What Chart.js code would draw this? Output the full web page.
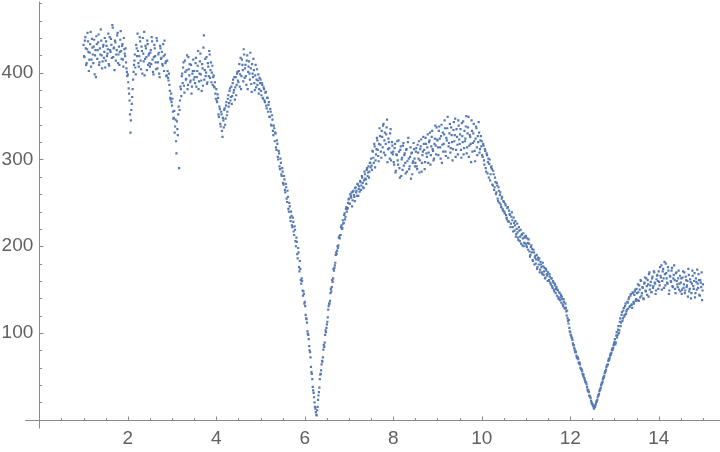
<!DOCTYPE html>
<html>
<head>
<meta charset="utf-8">
<script src="https://cdn.jsdelivr.net/npm/chart.js@4.4.1/dist/chart.umd.min.js"></script>
<style>
  html, body { margin: 0; padding: 0; background: #fff; }
  canvas { display: block; }
</style>
</head>
<body>
<canvas id="plot" width="720" height="452"></canvas>
<script>
// two interleaved sample runs: A at x = 1.00, 1.02 ... 15.00, B at x = 1.01, 1.03 ... 14.99
const xStartA = 1;
const xStartB = 1.01;
const xStep = 0.02;

// y, one row per half unit of x
const yValuesA = [
  432, 418, 441, 409, 427, 436, 402, 423, 447, 415, 429, 411, 438, 420, 395, 433, 426, 444, 412, 421, 437, 405, 430, 417, 440,
  414, 431, 422, 445, 408, 426, 439, 417, 452, 428, 403, 435, 421, 443, 411, 430, 424, 448, 416, 433, 407, 427, 419, 412, 401,
  398, 382, 368, 331, 357, 372, 392, 409, 421, 398, 428, 445, 411, 419, 436, 404, 425, 440, 413, 397, 431, 418, 437, 409, 422,
  407, 426, 441, 415, 398, 432, 419, 404, 437, 412, 423, 395, 428, 417, 410, 433, 402, 421, 413, 397, 402, 391, 386, 371, 376,
  362, 355, 348, 331, 346, 307, 335, 352, 290, 368, 381, 396, 388, 412, 377, 401, 393, 420, 386, 404, 410, 391, 376, 399, 415,
  402, 388, 417, 395, 408, 381, 399, 422, 391, 410, 385, 443, 403, 396, 418, 389, 407, 425, 394, 412, 400, 386, 397, 383, 376,
  381, 366, 371, 349, 358, 338, 352, 326, 345, 357, 340, 362, 351, 370, 361, 379, 368, 384, 373, 392, 380, 369, 395, 386, 401,
  389, 410, 398, 381, 415, 403, 427, 394, 409, 386, 420, 401, 413, 392, 405, 378, 399, 416, 388, 397, 383, 404, 391, 376, 394,
  392, 374, 386, 370, 381, 366, 378, 359, 371, 363, 349, 358, 340, 351, 333, 339, 321, 330, 311, 318, 300, 307, 289, 296, 281,
  286, 271, 277, 262, 268, 251, 257, 240, 246, 229, 235, 222, 228, 213, 219, 200, 205, 186, 193, 171, 174, 157, 160, 143, 145,
  136, 121, 116, 102, 98, 85, 78, 61, 53, 38, 31, 20, 13, 6, 11, 23, 32, 47, 53, 64, 67, 81, 84, 98, 101,
  110, 118, 131, 134, 146, 148, 161, 163, 172, 178, 190, 191, 200, 201, 211, 213, 222, 220, 230, 227, 238, 234, 245, 243, 250,
  255, 249, 258, 262, 253, 264, 257, 267, 262, 258, 271, 266, 263, 274, 270, 279, 268, 276, 283, 277, 288, 281, 292, 286, 296,
  301, 288, 309, 296, 315, 299, 312, 322, 304, 318, 327, 309, 333, 314, 341, 322, 305, 329, 346, 312, 320, 301, 335, 308, 316,
  309, 294, 318, 287, 305, 299, 322, 290, 311, 281, 302, 316, 293, 307, 284, 312, 298, 325, 289, 303, 278, 308, 296, 319, 301,
  296, 313, 289, 308, 321, 299, 315, 286, 305, 326, 311, 297, 318, 303, 329, 308, 322, 294, 315, 333, 310, 301, 324, 316, 337,
  322, 305, 338, 314, 327, 296, 331, 318, 345, 309, 325, 336, 302, 319, 341, 313, 328, 299, 334, 321, 347, 311, 326, 306, 339,
  318, 335, 302, 327, 344, 313, 321, 338, 307, 330, 349, 316, 326, 297, 333, 319, 341, 310, 324, 336, 305, 320, 331, 312, 327,
  321, 303, 316, 294, 310, 286, 305, 297, 279, 300, 283, 292, 271, 287, 265, 279, 260, 273, 255, 268, 250, 262, 245, 257, 241,
  251, 238, 247, 233, 244, 229, 241, 236, 226, 239, 222, 233, 218, 229, 214, 226, 210, 222, 206, 219, 213, 201, 215, 204, 210,
  212, 199, 204, 208, 194, 190, 201, 197, 183, 193, 187, 180, 190, 176, 184, 186, 173, 179, 170, 181, 167, 175, 164, 172, 166,
  170, 161, 165, 156, 163, 152, 158, 148, 155, 151, 143, 149, 139, 146, 141, 135, 139, 131, 136, 128, 129, 120, 117, 111, 106,
  101, 97, 94, 88, 86, 81, 79, 74, 71, 70, 65, 64, 59, 58, 53, 52, 48, 44, 43, 38, 33, 32, 27, 25, 20,
  18, 16, 13, 15, 19, 21, 26, 28, 33, 35, 40, 42, 47, 49, 54, 56, 61, 63, 68, 69, 74, 75, 80, 81, 86,
  90, 87, 97, 95, 104, 100, 113, 108, 121, 114, 126, 119, 131, 122, 127, 135, 139, 130, 143, 132, 129, 146, 134, 148, 137,
  151, 138, 147, 155, 141, 160, 146, 152, 139, 158, 149, 163, 144, 156, 168, 150, 159, 147, 165, 154, 170, 157, 149, 166, 160,
  171, 155, 166, 178, 160, 174, 152, 168, 180, 163, 157, 172, 149, 165, 159, 175, 153, 167, 161, 146, 170, 156, 163, 150, 166,
  158, 145, 164, 152, 170, 149, 161, 155, 142, 167, 151, 159, 146, 172, 154, 160, 141, 163, 150, 157, 168, 144, 161, 153, 138,
  156
];

const yValuesB = [
  419, 437, 428, 411, 446, 424, 415, 433, 407, 439, 421, 430, 398, 426, 442, 416, 435, 409, 428, 450, 420, 413, 432, 424, 406,
  436, 419, 427, 410, 441, 424, 432, 455, 418, 429, 437, 414, 426, 446, 421, 409, 438, 425, 431, 415, 440, 422, 428, 405, 396,
  389, 376, 352, 345, 364, 381, 401, 414, 406, 432, 419, 425, 407, 441, 414, 430, 399, 422, 447, 416, 428, 403, 433, 420, 411,
  423, 410, 436, 401, 418, 428, 412, 440, 405, 421, 399, 431, 416, 424, 408, 419, 437, 411, 396, 414, 394, 399, 379, 369, 366,
  370, 347, 356, 338, 321, 344, 328, 361, 357, 384, 373, 399, 406, 385, 414, 392, 403, 381, 418, 397, 389, 409, 384, 402, 392,
  395, 411, 384, 402, 425, 390, 413, 398, 379, 405, 429, 392, 416, 400, 387, 411, 396, 421, 403, 389, 408, 395, 384, 389, 370,
  368, 375, 352, 361, 341, 355, 333, 348, 337, 359, 347, 366, 355, 374, 365, 382, 372, 364, 388, 377, 395, 383, 374, 399, 391,
  402, 384, 417, 396, 409, 390, 421, 405, 396, 414, 381, 407, 399, 423, 387, 410, 395, 403, 380, 409, 392, 386, 398, 381, 388,
  379, 388, 371, 383, 368, 377, 362, 371, 355, 366, 349, 355, 339, 346, 328, 336, 331, 314, 322, 303, 310, 292, 301, 283, 290,
  273, 281, 265, 272, 255, 264, 243, 250, 233, 240, 224, 233, 217, 223, 206, 210, 191, 198, 176, 183, 161, 163, 149, 148, 134,
  131, 117, 112, 99, 93, 80, 72, 55, 47, 34, 26, 15, 9, 5, 15, 28, 37, 52, 57, 68, 72, 86, 89, 103, 106,
  113, 127, 134, 137, 151, 153, 159, 174, 175, 181, 193, 195, 198, 210, 209, 213, 224, 221, 226, 236, 231, 243, 240, 244, 254,
  249, 260, 256, 246, 263, 259, 252, 268, 264, 272, 258, 269, 275, 265, 281, 273, 267, 286, 278, 272, 290, 285, 279, 296, 291,
  293, 310, 302, 318, 291, 306, 325, 311, 298, 336, 317, 302, 326, 339, 308, 331, 318, 337, 297, 324, 313, 330, 299, 320, 306,
  297, 313, 285, 306, 321, 294, 309, 279, 315, 300, 288, 319, 305, 296, 311, 286, 320, 301, 292, 314, 307, 283, 298, 312, 292,
  309, 292, 317, 301, 285, 312, 323, 296, 309, 318, 289, 325, 307, 314, 296, 320, 331, 305, 326, 312, 299, 318, 339, 306, 323,
  314, 333, 324, 301, 340, 317, 309, 329, 336, 304, 322, 349, 315, 330, 308, 337, 320, 312, 343, 328, 303, 335, 317, 345, 323,
  329, 311, 342, 320, 306, 333, 324, 350, 314, 337, 303, 328, 318, 345, 309, 330, 321, 298, 338, 314, 327, 343, 308, 322, 315,
  305, 318, 299, 312, 290, 307, 284, 301, 295, 276, 291, 289, 270, 283, 268, 274, 262, 270, 252, 264, 259, 248, 255, 243, 252,
  240, 249, 236, 231, 245, 228, 237, 222, 234, 230, 217, 227, 224, 211, 220, 216, 207, 218, 211, 203, 214, 209, 200, 211, 203,
  201, 209, 196, 203, 188, 199, 193, 184, 196, 179, 189, 185, 174, 187, 179, 170, 182, 176, 168, 177, 171, 163, 174, 168, 160,
  160, 168, 158, 163, 154, 160, 150, 157, 146, 153, 150, 141, 147, 138, 144, 142, 133, 139, 129, 134, 125, 126, 114, 115, 102,
  98, 95, 92, 86, 83, 78, 78, 72, 72, 66, 66, 60, 58, 56, 51, 49, 46, 43, 41, 35, 34, 28, 27, 22, 19,
  17, 14, 15, 17, 21, 23, 28, 30, 35, 37, 42, 44, 49, 51, 56, 58, 63, 64, 70, 71, 76, 77, 82, 83, 88,
  93, 89, 101, 98, 108, 103, 117, 112, 124, 117, 129, 121, 134, 125, 136, 128, 141, 131, 145, 133, 147, 136, 144, 150, 139,
  146, 156, 137, 150, 161, 143, 153, 140, 157, 164, 148, 154, 161, 142, 170, 155, 147, 163, 152, 171, 158, 145, 162, 167, 151,
  159, 176, 164, 150, 171, 163, 182, 155, 169, 158, 176, 145, 166, 160, 172, 154, 163, 178, 151, 169, 160, 153, 172, 157, 148,
  163, 150, 171, 156, 146, 165, 153, 160, 174, 148, 162, 140, 157, 166, 151, 169, 146, 159, 173, 152, 161, 143, 158, 170, 149
];

const xTickLabels = [2, 4, 6, 8, 10, 12, 14];
const xMinorTicks = [0.5, 1, 1.5, 2.5, 3, 3.5, 4.5, 5, 5.5, 6.5, 7, 7.5, 8.5, 9, 9.5, 10.5, 11, 11.5, 12.5, 13, 13.5, 14.5, 15];
const yTickLabels = [100, 200, 300, 400];
const yMinorTicks = [20, 40, 60, 80, 120, 140, 160, 180, 220, 240, 260, 280, 320, 340, 360, 380, 420, 440, 460, 480];

const toPoints = (vals, start) => vals.map((y, i) => ({ x: +(start + i * xStep).toFixed(2), y: y }));
const points = toPoints(yValuesA, xStartA).concat(toPoints(yValuesB, xStartB));

const axisColor = "#8a8a8a";
const labelColor = "#616161";

// Mathematica style axes: cross at the origin, ticks point inward
const axesPlugin = {
  id: "crossAxes",
  afterDatasetsDraw(chart) {
    const { ctx, scales } = chart;
    const sx = scales.x;
    const sy = scales.y;
    const x0 = Math.round(sx.getPixelForValue(0)) + 0.5;
    const y0 = Math.round(sy.getPixelForValue(0)) + 0.5;
    ctx.save();
    ctx.strokeStyle = axisColor;
    ctx.lineWidth = 1;
    ctx.beginPath();
    ctx.moveTo(sx.getPixelForValue(-0.32), y0);
    ctx.lineTo(chart.width, y0);
    ctx.moveTo(x0, sy.top);
    ctx.lineTo(x0, sy.bottom);
    xTickLabels.forEach((v) => {
      const px = Math.round(sx.getPixelForValue(v)) + 0.5;
      ctx.moveTo(px, y0);
      ctx.lineTo(px, y0 - 4);
    });
    xMinorTicks.forEach((v) => {
      const px = Math.round(sx.getPixelForValue(v)) + 0.5;
      ctx.moveTo(px, y0);
      ctx.lineTo(px, y0 - 2.5);
    });
    yTickLabels.forEach((v) => {
      const py = Math.round(sy.getPixelForValue(v)) + 0.5;
      ctx.moveTo(x0, py);
      ctx.lineTo(x0 + 4, py);
    });
    yMinorTicks.forEach((v) => {
      const py = Math.round(sy.getPixelForValue(v)) + 0.5;
      ctx.moveTo(x0, py);
      ctx.lineTo(x0 + 2.5, py);
    });
    ctx.stroke();
    ctx.restore();
  },
};

const labelFont = { family: "'Liberation Sans', Arial, sans-serif", size: 19, lineHeight: 1 };

new Chart(document.getElementById("plot"), {
  type: "scatter",
  data: {
    datasets: [
      {
        data: points,
        backgroundColor: "#5479b3",
        borderWidth: 0,
        pointStyle: "rect",
        pointRadius: 1.55,
        pointHoverRadius: 1.55,
      },
    ],
  },
  options: {
    responsive: false,
    animation: false,
    layout: { padding: 0 },
    plugins: { legend: { display: false }, tooltip: { enabled: false } },
    scales: {
      x: {
        type: "linear",
        min: 0,
        max: 15.35,
        grid: { display: false, drawTicks: false },
        border: { display: false },
        ticks: { color: labelColor, font: labelFont, padding: 1, maxRotation: 0, autoSkip: false },
        afterBuildTicks: (s) => { s.ticks = xTickLabels.map((v) => ({ value: v })); },
        afterFit: (s) => { s.height = 23.5; s.paddingLeft = 0; s.paddingRight = 0; },
      },
      y: {
        type: "linear",
        min: -10,
        max: 482,
        grid: { display: false, drawTicks: false },
        border: { display: false },
        ticks: { color: labelColor, font: labelFont, padding: 6 },
        afterBuildTicks: (s) => { s.ticks = yTickLabels.map((v) => ({ value: v })); },
        afterFit: (s) => { s.width = 39.3; s.paddingTop = 0; s.paddingBottom = 0; },
      },
    },
  },
  plugins: [axesPlugin],
});
</script>
</body>
</html>
